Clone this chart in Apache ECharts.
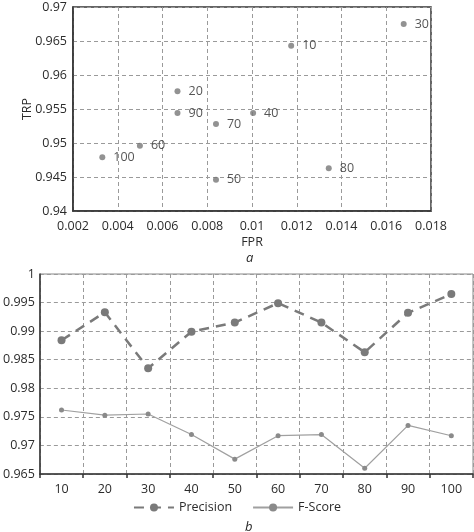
<!DOCTYPE html>
<html>
<head>
<meta charset="utf-8">
<script src="https://cdn.jsdelivr.net/npm/echarts@6/dist/echarts.min.js"></script>
<style>
  html, body { margin: 0; padding: 0; background: #fff; }
  #chart { width: 474px; height: 532px; }
</style>
</head>
<body>
<div id="chart"></div>
<script>
// (a) TRP / FPR の散布図, (b) Precision と F-Score の推移
const pointNames = ['10', '20', '30', '40', '50', '60', '70', '80', '90', '100'];
const fprValues = [0.01175, 0.00667, 0.01678, 0.01005, 0.00839, 0.00499, 0.00839, 0.01343, 0.00667, 0.00331];
const trpValues = [0.9643, 0.9576, 0.9675, 0.9544, 0.9446, 0.9496, 0.9528, 0.9463, 0.9544, 0.9479];

const categories = ['10', '20', '30', '40', '50', '60', '70', '80', '90', '100'];
const precision = [0.9884, 0.9933, 0.9835, 0.9899, 0.9915, 0.9949, 0.9915, 0.9863, 0.9932, 0.9965];
const fScore = [0.9762, 0.9753, 0.9755, 0.9719, 0.9676, 0.9717, 0.9719, 0.9660, 0.9735, 0.9717];

const FONT = '"Open Sans", "DejaVu Sans", sans-serif';
const TEXT = '#2b2b2b';
const GRIDLINE = { show: true, lineStyle: { color: '#9a9a9a', type: [4, 3], width: 1 } };
const AXISLINE = { show: true, lineStyle: { color: '#333', width: 1.5 } };
const label = (extra) => Object.assign({ color: TEXT, fontSize: 12.5, fontFamily: FONT }, extra);
const fmt = (v) => String(+v.toFixed(4));

const chart = echarts.init(document.getElementById('chart'), null, { renderer: 'canvas' });

chart.setOption({
  backgroundColor: '#fff',
  animation: false,
  title: [
    { text: 'a', left: 241, top: 247, textStyle: { fontSize: 13, fontStyle: 'italic', fontWeight: 'normal', color: TEXT, fontFamily: FONT } },
    { text: 'b', left: 240, top: 516, textStyle: { fontSize: 13, fontStyle: 'italic', fontWeight: 'normal', color: TEXT, fontFamily: FONT } },
  ],
  grid: [
    { left: 73, right: 43, top: 7, height: 204, show: true, borderColor: '#333', borderWidth: 1.5 },
    { left: 38, right: 1, top: 274, height: 200, show: true, borderColor: '#888', borderWidth: 1 },
  ],
  legend: {
    bottom: 13,
    left: 'center',
    itemWidth: 40,
    itemHeight: 10,
    itemGap: 20,
    textStyle: label(),
    data: ['Precision', 'F-Score'],
  },
  xAxis: [
    {
      gridIndex: 0,
      type: 'value',
      min: 0.002,
      max: 0.018,
      interval: 0.002,
      name: 'FPR',
      nameLocation: 'middle',
      nameGap: 25,
      nameMoveOverlap: false,
      nameTextStyle: label(),
      axisLine: AXISLINE,
      axisTick: { show: false },
      axisLabel: label({ margin: 9, formatter: fmt }),
      splitLine: GRIDLINE,
    },
    {
      gridIndex: 1,
      type: 'category',
      data: categories,
      boundaryGap: true,
      axisLine: AXISLINE,
      axisTick: { show: true, inside: false, length: 4, lineStyle: { color: '#333', width: 1.5 } },
      axisLabel: label({ margin: 9 }),
      splitLine: GRIDLINE,
    },
  ],
  yAxis: [
    {
      gridIndex: 0,
      type: 'value',
      min: 0.94,
      max: 0.97,
      interval: 0.005,
      name: 'TRP',
      nameLocation: 'middle',
      nameGap: 39,
      nameMoveOverlap: false,
      nameTextStyle: label(),
      axisLine: AXISLINE,
      axisTick: { show: false },
      axisLabel: label({ margin: 6, formatter: fmt }),
      splitLine: GRIDLINE,
    },
    {
      gridIndex: 1,
      type: 'value',
      min: 0.965,
      max: 1,
      interval: 0.005,
      axisLine: AXISLINE,
      axisTick: { show: false },
      axisLabel: label({ margin: 5, formatter: fmt }),
      splitLine: GRIDLINE,
    },
  ],
  series: [
    {
      type: 'scatter',
      xAxisIndex: 0,
      yAxisIndex: 0,
      data: fprValues.map((x, i) => ({ value: [x, trpValues[i]], name: pointNames[i] })),
      symbolSize: 6,
      itemStyle: { color: '#777' },
      label: {
        show: true,
        position: 'right',
        distance: 8,
        formatter: (p) => p.name,
        color: TEXT,
        fontSize: 12.5,
        fontFamily: FONT,
      },
    },
    {
      name: 'Precision',
      type: 'line',
      xAxisIndex: 1,
      yAxisIndex: 1,
      data: precision,
      symbol: 'circle',
      symbolSize: 8,
      lineStyle: { color: '#7a7a7a', width: 2.5, type: [10, 7] },
      itemStyle: { color: '#7a7a7a' },
    },
    {
      name: 'F-Score',
      type: 'line',
      xAxisIndex: 1,
      yAxisIndex: 1,
      data: fScore,
      symbol: 'circle',
      symbolSize: 5,
      lineStyle: { color: '#a0a0a0', width: 1.2 },
      itemStyle: { color: '#8a8a8a' },
    },
  ],
});
</script>
</body>
</html>
